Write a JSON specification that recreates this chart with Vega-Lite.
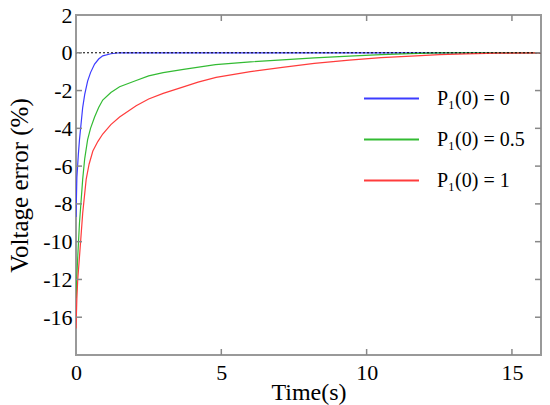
{
  "$schema": "https://vega.github.io/schema/vega-lite/v6.json",
  "autosize": "none",
  "padding": {"left": 76, "top": 15, "right": 9, "bottom": 50},
  "width": 465,
  "height": 340,
  "background": "white",
  "config": {
    "font": "Liberation Serif",
    "view": {"stroke": "#999999", "strokeWidth": 2},
    "axis": {"grid": false, "domain": false, "ticks": false, "labelColor": "black", "titleColor": "black", "labelFont": "Liberation Serif", "titleFont": "Liberation Serif", "titleFontWeight": "normal"}
  },
  "datasets": {
    "curves": [
      {"t": 0, "v": -8.7, "s": "P₁(0) = 0"},
      {"t": 0.03, "v": -6.6, "s": "P₁(0) = 0"},
      {"t": 0.08, "v": -5.4, "s": "P₁(0) = 0"},
      {"t": 0.12, "v": -4.6, "s": "P₁(0) = 0"},
      {"t": 0.23, "v": -2.9, "s": "P₁(0) = 0"},
      {"t": 0.3, "v": -2.2, "s": "P₁(0) = 0"},
      {"t": 0.4, "v": -1.5, "s": "P₁(0) = 0"},
      {"t": 0.5, "v": -1.05, "s": "P₁(0) = 0"},
      {"t": 0.64, "v": -0.6, "s": "P₁(0) = 0"},
      {"t": 0.78, "v": -0.33, "s": "P₁(0) = 0"},
      {"t": 0.92, "v": -0.16, "s": "P₁(0) = 0"},
      {"t": 1.2, "v": -0.05, "s": "P₁(0) = 0"},
      {"t": 1.5, "v": 0, "s": "P₁(0) = 0"},
      {"t": 16, "v": 0, "s": "P₁(0) = 0"},
      {"t": 0, "v": -13, "s": "P₁(0) = 0.5"},
      {"t": 0.03, "v": -11.8, "s": "P₁(0) = 0.5"},
      {"t": 0.06, "v": -10.8, "s": "P₁(0) = 0.5"},
      {"t": 0.12, "v": -9, "s": "P₁(0) = 0.5"},
      {"t": 0.23, "v": -6.7, "s": "P₁(0) = 0.5"},
      {"t": 0.3, "v": -5.6, "s": "P₁(0) = 0.5"},
      {"t": 0.4, "v": -4.6, "s": "P₁(0) = 0.5"},
      {"t": 0.5, "v": -4.0, "s": "P₁(0) = 0.5"},
      {"t": 0.64, "v": -3.4, "s": "P₁(0) = 0.5"},
      {"t": 0.78, "v": -2.9, "s": "P₁(0) = 0.5"},
      {"t": 0.92, "v": -2.5, "s": "P₁(0) = 0.5"},
      {"t": 1.2, "v": -2.1, "s": "P₁(0) = 0.5"},
      {"t": 1.5, "v": -1.8, "s": "P₁(0) = 0.5"},
      {"t": 2.07, "v": -1.47, "s": "P₁(0) = 0.5"},
      {"t": 2.5, "v": -1.22, "s": "P₁(0) = 0.5"},
      {"t": 3, "v": -1.05, "s": "P₁(0) = 0.5"},
      {"t": 3.7, "v": -0.88, "s": "P₁(0) = 0.5"},
      {"t": 4.8, "v": -0.63, "s": "P₁(0) = 0.5"},
      {"t": 6, "v": -0.48, "s": "P₁(0) = 0.5"},
      {"t": 7.1, "v": -0.38, "s": "P₁(0) = 0.5"},
      {"t": 8.2, "v": -0.27, "s": "P₁(0) = 0.5"},
      {"t": 9.4, "v": -0.18, "s": "P₁(0) = 0.5"},
      {"t": 10.5, "v": -0.1, "s": "P₁(0) = 0.5"},
      {"t": 11.5, "v": -0.04, "s": "P₁(0) = 0.5"},
      {"t": 12.5, "v": 0, "s": "P₁(0) = 0.5"},
      {"t": 16, "v": 0, "s": "P₁(0) = 0.5"},
      {"t": 0, "v": -14.6, "s": "P₁(0) = 1"},
      {"t": 0.03, "v": -13, "s": "P₁(0) = 1"},
      {"t": 0.06, "v": -12, "s": "P₁(0) = 1"},
      {"t": 0.12, "v": -10.8, "s": "P₁(0) = 1"},
      {"t": 0.23, "v": -8.5, "s": "P₁(0) = 1"},
      {"t": 0.35, "v": -6.7, "s": "P₁(0) = 1"},
      {"t": 0.45, "v": -5.9, "s": "P₁(0) = 1"},
      {"t": 0.58, "v": -5.2, "s": "P₁(0) = 1"},
      {"t": 0.75, "v": -4.7, "s": "P₁(0) = 1"},
      {"t": 0.92, "v": -4.3, "s": "P₁(0) = 1"},
      {"t": 1.2, "v": -3.8, "s": "P₁(0) = 1"},
      {"t": 1.5, "v": -3.4, "s": "P₁(0) = 1"},
      {"t": 2.07, "v": -2.8, "s": "P₁(0) = 1"},
      {"t": 2.5, "v": -2.45, "s": "P₁(0) = 1"},
      {"t": 3, "v": -2.15, "s": "P₁(0) = 1"},
      {"t": 3.67, "v": -1.82, "s": "P₁(0) = 1"},
      {"t": 4.2, "v": -1.55, "s": "P₁(0) = 1"},
      {"t": 4.82, "v": -1.3, "s": "P₁(0) = 1"},
      {"t": 6, "v": -1.0, "s": "P₁(0) = 1"},
      {"t": 7.1, "v": -0.77, "s": "P₁(0) = 1"},
      {"t": 8.2, "v": -0.56, "s": "P₁(0) = 1"},
      {"t": 9.4, "v": -0.39, "s": "P₁(0) = 1"},
      {"t": 10.5, "v": -0.26, "s": "P₁(0) = 1"},
      {"t": 11.7, "v": -0.16, "s": "P₁(0) = 1"},
      {"t": 12.5, "v": -0.1, "s": "P₁(0) = 1"},
      {"t": 13.4, "v": -0.06, "s": "P₁(0) = 1"},
      {"t": 14.5, "v": -0.02, "s": "P₁(0) = 1"},
      {"t": 16, "v": 0, "s": "P₁(0) = 1"}
    ],
    "yticks": [{"v": 0}, {"v": -2}, {"v": -4}, {"v": -6}, {"v": -8}, {"v": -10}, {"v": -12}, {"v": -14}],
    "xticks": [{"t": 5}, {"t": 10}, {"t": 15}],
    "zero": [{"v": 0}]
  },
  "layer": [
    {
      "data": {"name": "curves"},
      "mark": {"type": "line", "strokeWidth": 1.2, "clip": true},
      "encoding": {
        "x": {
          "field": "t", "type": "quantitative",
          "scale": {"domain": [0, 16], "nice": false},
          "axis": {"orient": "bottom", "values": [0, 5, 10, 15], "labelPadding": 7, "labelFontSize": 22, "labelFlush": false, "title": "Time(s)", "titleFontSize": 24, "titlePadding": -3}
        },
        "y": {
          "field": "v", "type": "quantitative",
          "scale": {"domain": [-16, 2], "nice": false, "zero": false},
          "axis": {"orient": "left", "values": [2, 0, -2, -4, -6, -8, -10, -12, -14, -16], "labelExpr": "datum.value == -14 ? '-16' : datum.value == -16 ? '' : '' + datum.value", "labelPadding": 4, "labelFontSize": 22, "title": "Voltage error (%)", "titleFontSize": 25, "titlePadding": 10}
        },
        "color": {
          "field": "s", "type": "nominal",
          "scale": {"domain": ["P₁(0) = 0", "P₁(0) = 0.5", "P₁(0) = 1"], "range": ["#3c3cff", "#33bb33", "#ff3c3c"]},
          "legend": {
            "title": null, "orient": "none", "legendX": 305, "legendY": 73, "padding": 0,
            "symbolType": "M-3,0H3", "symbolSize": 336, "symbolStrokeWidth": 2,
            "labelOffset": 35, "rowPadding": 20, "labelFontSize": 20, "labelFont": "Liberation Serif", "labelColor": "black", "labelLimit": 200
          }
        }
      }
    },
    {
      "data": {"name": "zero"},
      "mark": {"type": "rule", "color": "black", "strokeWidth": 1, "strokeDash": [2, 2]},
      "encoding": {
        "y": {"field": "v", "type": "quantitative", "axis": null}
      }
    },
    {
      "data": {"name": "yticks"},
      "mark": {"type": "tick", "orient": "horizontal", "size": 12, "thickness": 1.5, "color": "#888888", "opacity": 1, "clip": true},
      "encoding": {"x": {"datum": 0, "type": "quantitative", "axis": null}, "y": {"field": "v", "type": "quantitative", "axis": null}}
    },
    {
      "data": {"name": "yticks"},
      "mark": {"type": "tick", "orient": "horizontal", "size": 12, "thickness": 1.5, "color": "#888888", "opacity": 1, "clip": true},
      "encoding": {"x": {"datum": 16, "type": "quantitative", "axis": null}, "y": {"field": "v", "type": "quantitative", "axis": null}}
    },
    {
      "data": {"name": "xticks"},
      "mark": {"type": "tick", "orient": "vertical", "size": 12, "thickness": 1.5, "color": "#888888", "opacity": 1, "clip": true},
      "encoding": {"x": {"field": "t", "type": "quantitative", "axis": null}, "y": {"datum": -16, "type": "quantitative", "axis": null}}
    },
    {
      "data": {"name": "xticks"},
      "mark": {"type": "tick", "orient": "vertical", "size": 12, "thickness": 1.5, "color": "#888888", "opacity": 1, "clip": true},
      "encoding": {"x": {"field": "t", "type": "quantitative", "axis": null}, "y": {"datum": 2, "type": "quantitative", "axis": null}}
    }
  ],
  "resolve": {"axis": {"x": "independent", "y": "independent"}}
}
